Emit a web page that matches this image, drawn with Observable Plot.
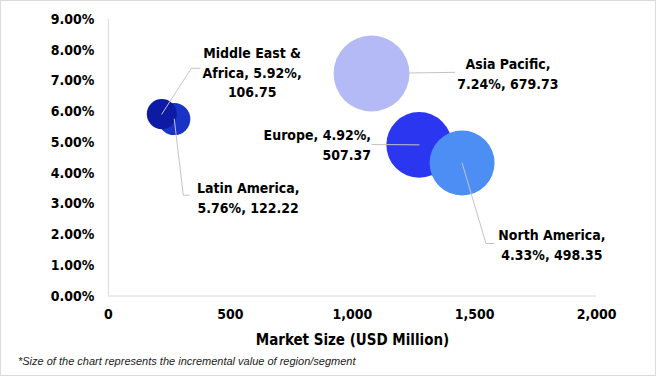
<!DOCTYPE html>
<html><head><meta charset="utf-8">
<script src="https://cdn.jsdelivr.net/npm/d3@7"></script>
<script src="https://cdn.jsdelivr.net/npm/@observablehq/plot@0.6"></script>
<style>
html,body{margin:0;padding:0;background:#fff;}
#wrap{position:relative;width:654px;height:374px;border:1px solid #dcdcdc;overflow:hidden;background:#fff;}
#chart{position:absolute;left:-1px;top:-1px;}
#cap{position:absolute;left:17px;top:354px;font:italic 11px "Liberation Sans",sans-serif;color:#222;white-space:nowrap;}
</style>
</head><body>
<div id="wrap">
  <div id="chart"></div>
  <div id="cap">*Size of the chart represents the incremental value of region/segment</div>
</div>
<script>
// ---- data ----
const regions = ["Asia Pacific", "North America", "Europe", "Latin America", "Middle East & Africa"];
const marketSize = [1078, 1449, 1273, 270, 219];          // USD Million (x)
const growth = [7.24, 4.33, 4.92, 5.76, 5.92];            // % (y)
const incremental = [679.73, 498.35, 507.37, 122.22, 106.75]; // bubble size
const colors = ["#b3baf6", "#4d8ef4", "#2b36f0", "#1a33c6", "#0c1ba2"];
const labelText = [
  "Asia Pacific,\n7.24%, 679.73",
  "North America,\n4.33%, 498.35",
  "Europe, 4.92%,\n507.37",
  "Latin America,\n5.76%, 122.22",
  "Middle East &\nAfrica, 5.92%,\n106.75"
];
const xTicks = [0, 500, 1000, 1500, 2000];
const yTicks = [0, 1, 2, 3, 4, 5, 6, 7, 8, 9];
// annotation anchors (data units)
const labelX = [1637, 1817, 1076, 573, 589];
const labelY = [7.26, 1.70, 4.97, 3.22, 7.32];
const elbowX = [1420, 1547, 1080, 307, 340];
const elbowY = [7.28, 1.71, 4.93, 3.28, 7.41];
const endX = [1420, 1580, 1080, 331, 376];
const endY = [7.28, 1.71, 4.93, 3.28, 7.41];

const FONT = "'DejaVu Sans Condensed', 'DejaVu Sans', sans-serif";

const bubbles = regions.map((r, i) => ({
  region: r, x: marketSize[i], y: growth[i], size: incremental[i], color: colors[i],
  label: labelText[i], lx: labelX[i], ly: labelY[i]
}));
const leaders = regions.flatMap((r, i) => [
  {region: r, x: marketSize[i], y: growth[i]},
  {region: r, x: elbowX[i], y: elbowY[i]},
  {region: r, x: endX[i], y: endY[i]}
]);

const front = bubbles.filter(d => d.region === "Asia Pacific");
const back = bubbles.filter(d => d.region !== "Asia Pacific");

const chart = Plot.plot({
  width: 656, height: 352,
  marginLeft: 108, marginRight: 59, marginTop: 19, marginBottom: 56,
  style: {fontFamily: FONT, fontWeight: "bold", fontSize: "14px", color: "#000", background: "transparent", overflow: "visible"},
  x: {domain: [0, 2000]},
  y: {domain: [0, 9]},
  r: {type: "sqrt", domain: [0, d3.max(incremental)], range: [0, 38]},
  marks: [
    Plot.ruleY([0], {stroke: "#d9d9d9"}),
    Plot.ruleX([0], {stroke: "#d9d9d9"}),
    Plot.axisX({ticks: xTicks, tickSize: 0, tickPadding: 13, tickFormat: d3.format(","), label: null, fontSize: 14}),
    Plot.axisY({ticks: yTicks, tickSize: 0, tickPadding: 14, tickFormat: d => d.toFixed(2) + "%", label: null, fontSize: 14}),
    Plot.dot(back, {x: "x", y: "y", r: "size", fill: "color"}),
    Plot.line(leaders, {x: "x", y: "y", z: "region", stroke: "#c4c4c4", strokeWidth: 1}),
    Plot.dot(front, {x: "x", y: "y", r: "size", fill: "color"}),
    Plot.text(bubbles.filter(d => d.region !== "Europe"), {x: "lx", y: "ly", text: "label", textAnchor: "middle", lineAnchor: "middle", lineHeight: 1.43, fontSize: 14, fill: "#000"}),
    Plot.text(bubbles.filter(d => d.region === "Europe"), {x: "lx", y: "ly", text: "label", textAnchor: "end", lineAnchor: "middle", lineHeight: 1.43, fontSize: 14, fill: "#000"}),
    Plot.text(["Market Size (USD Million)"], {frameAnchor: "bottom", dy: 44, lineAnchor: "middle", fontSize: 15, fill: "#000"})
  ]
});
document.getElementById("chart").appendChild(chart);
</script>
</body></html>
